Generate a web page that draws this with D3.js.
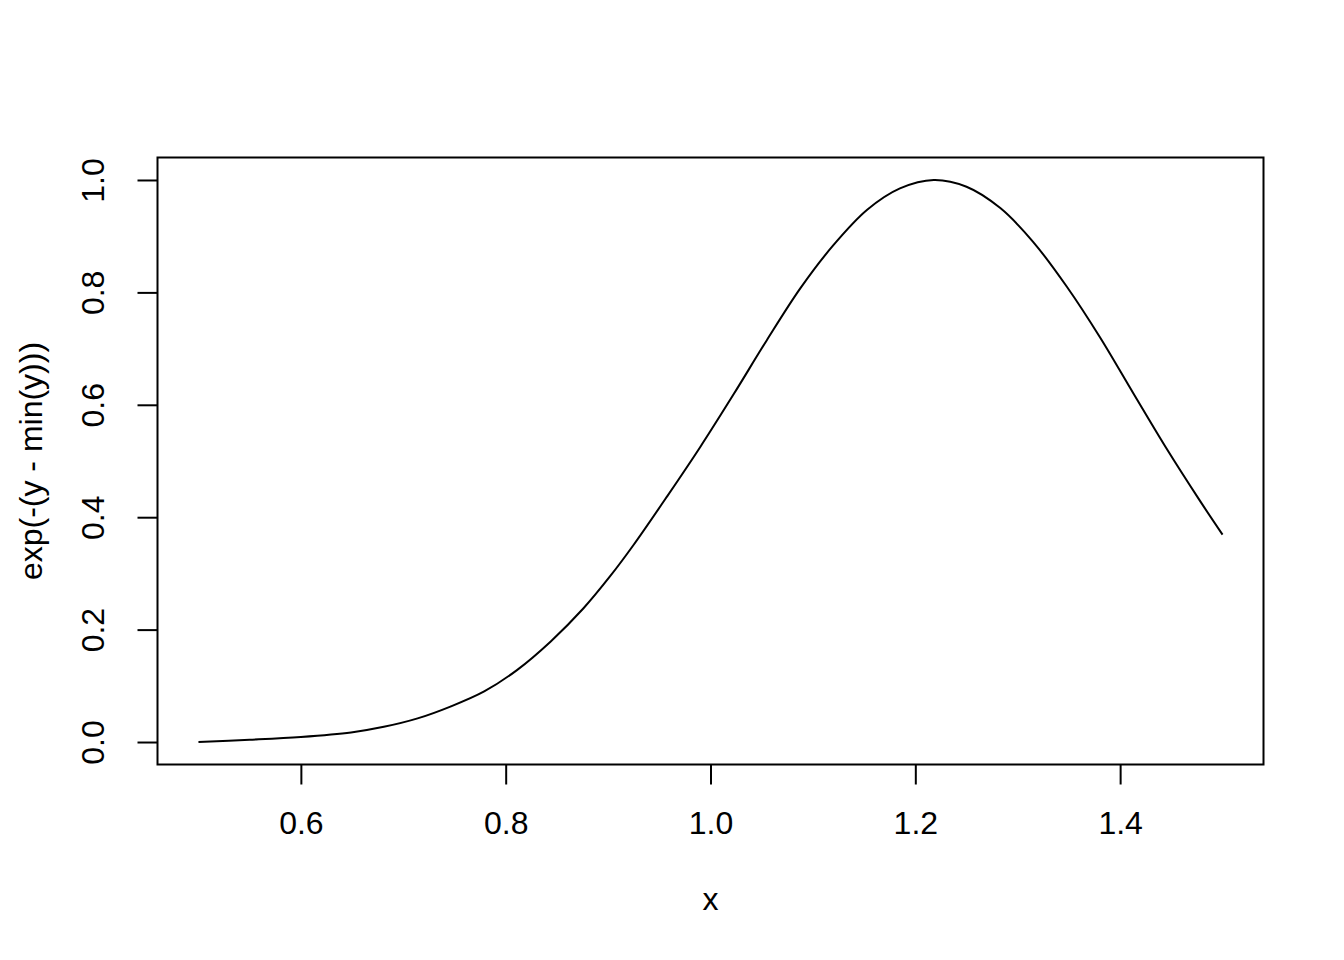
<!DOCTYPE html>
<html>
<head>
<meta charset="utf-8">
<script src="https://cdn.jsdelivr.net/npm/d3@7"></script>
<style>
  body { margin: 0; background: #fff; }
  svg text { font-family: "Liberation Sans", Arial, Helvetica, sans-serif; fill: #000; }
</style>
</head>
<body>
<svg id="chart" width="1344" height="960"></svg>
<script>
// values
const xVals = [0.5, 0.55, 0.6, 0.649, 0.681, 0.714, 0.746, 0.779, 0.811, 0.844, 0.876, 0.902, 0.925, 0.958,
               0.99, 1.023, 1.055, 1.088, 1.12, 1.153, 1.185, 1.218, 1.25, 1.283, 1.315, 1.348, 1.38,
               1.413, 1.445, 1.478, 1.5];
const yVals = [0.0, 0.004, 0.009, 0.017, 0.027, 0.042, 0.063, 0.090, 0.128, 0.179, 0.238, 0.295, 0.351, 0.438,
               0.525, 0.620, 0.715, 0.808, 0.884, 0.947, 0.985, 1.0, 0.988, 0.950, 0.890, 0.810, 0.721,
               0.620, 0.523, 0.429, 0.369];
const xTicks = [0.6, 0.8, 1.0, 1.2, 1.4];
const yTicks = [0.0, 0.2, 0.4, 0.6, 0.8, 1.0];
const xTitle = "x";
const yTitle = "exp(-(y - min(y)))";

const svg = d3.select("#chart");
const margin = {top: 157.5, left: 157.5, right: 80.5, bottom: 195.5};
const width = 1344 - margin.left - margin.right;
const height = 960 - margin.top - margin.bottom;

// R style 4% padding on both axes
const x = d3.scaleLinear().domain([0.46, 1.54]).range([margin.left, margin.left + width]);
const y = d3.scaleLinear().domain([-0.04, 1.04]).range([margin.top + height, margin.top]);

const points = xVals.map((v, i) => ({x: v, y: yVals[i]}));

const line = d3.line()
    .x(d => x(d.x))
    .y(d => y(d.y))
    .curve(d3.curveCatmullRom.alpha(0.5));

svg.append("path")
    .datum(points)
    .attr("fill", "none")
    .attr("stroke", "#000")
    .attr("stroke-width", 2)
    .attr("d", line);

// plot box
svg.append("rect")
    .attr("x", margin.left)
    .attr("y", margin.top)
    .attr("width", width)
    .attr("height", height)
    .attr("fill", "none")
    .attr("stroke", "#000")
    .attr("stroke-width", 2);

//x axis
const xAxis = svg.append("g")
    .attr("transform", `translate(0,${margin.top + height})`)
    .call(d3.axisBottom(x).tickValues(xTicks).tickFormat(d3.format(".1f")).tickSize(20).tickSizeOuter(0).tickPadding(27));
xAxis.select(".domain").remove();
xAxis.selectAll("line").attr("stroke-width", 2);
xAxis.selectAll("text").style("font-size", "32px");

//y axis, labels turned like in R
const yAxis = svg.append("g")
    .attr("transform", `translate(${margin.left},0)`)
    .call(d3.axisLeft(y).tickValues(yTicks).tickFormat(d3.format(".1f")).tickSize(20).tickSizeOuter(0));
yAxis.select(".domain").remove();
yAxis.selectAll("line").attr("stroke-width", 2);
yAxis.selectAll("text")
    .attr("x", 0)
    .attr("y", -54)
    .attr("dy", null)
    .attr("text-anchor", "middle")
    .attr("transform", "rotate(-90)")
    .style("font-size", "32px");

//axis titles
svg.append("text")
    .attr("x", x(1.0))
    .attr("y", 910)
    .attr("text-anchor", "middle")
    .style("font-size", "32px")
    .text(xTitle);

svg.append("text")
    .attr("transform", `translate(41.7,${margin.top + height / 2}) rotate(-90)`)
    .attr("text-anchor", "middle")
    .style("font-size", "32px")
    .text(yTitle);
</script>
</body>
</html>
